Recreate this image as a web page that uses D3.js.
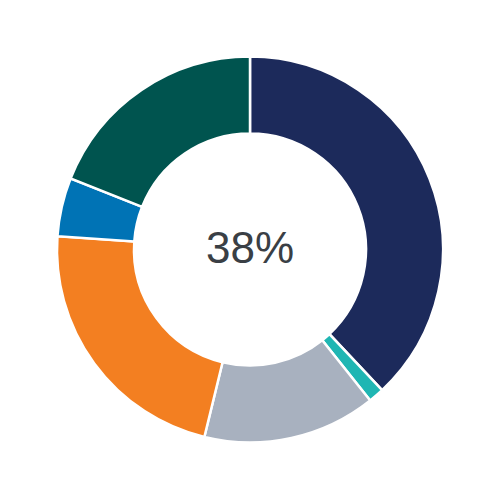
<!DOCTYPE html>
<html>
<head>
<meta charset="utf-8">
<script src="https://cdn.jsdelivr.net/npm/d3@7"></script>
<style>
  body { margin: 0; background: #fff; }
</style>
</head>
<body>
<div id="chart"></div>
<script>
// slice data, clockwise from 12 o'clock
const categories = ['A', 'B', 'C', 'D', 'E', 'F'];
const values = [38, 1.3, 14.5, 22.3, 4.9, 19.0];
const colors = ['#1c2a5b', '#1fb6b3', '#a8b1bf', '#f37f21', '#0073b5', '#00544f'];
const centerLabel = '38%';

const width = 500, height = 500;
const outerR = 193, innerR = 116;

const svg = d3.select('#chart').append('svg')
  .attr('width', width)
  .attr('height', height);

const g = svg.append('g').attr('transform', `translate(250,249.5)`);

const data = categories.map((c, i) => ({ cat: c, value: values[i] }));

const color = d3.scaleOrdinal().domain(categories).range(colors);

const pie = d3.pie().sort(null).value(d => d.value);
const arc = d3.arc().innerRadius(innerR).outerRadius(outerR);

g.selectAll('path')
  .data(pie(data))
  .enter().append('path')
  .attr('d', arc)
  .attr('fill', d => color(d.data.cat))
  .attr('stroke', '#fff')
  .attr('stroke-width', 2.5);

g.append('text')
  .attr('x', 0)
  .attr('y', 13)
  .attr('text-anchor', 'middle')
  .style('font-family', '"Liberation Sans", Arial, sans-serif')
  .style('font-size', '44px')
  .style('fill', '#3a3f45')
  .text(centerLabel);
</script>
</body>
</html>
